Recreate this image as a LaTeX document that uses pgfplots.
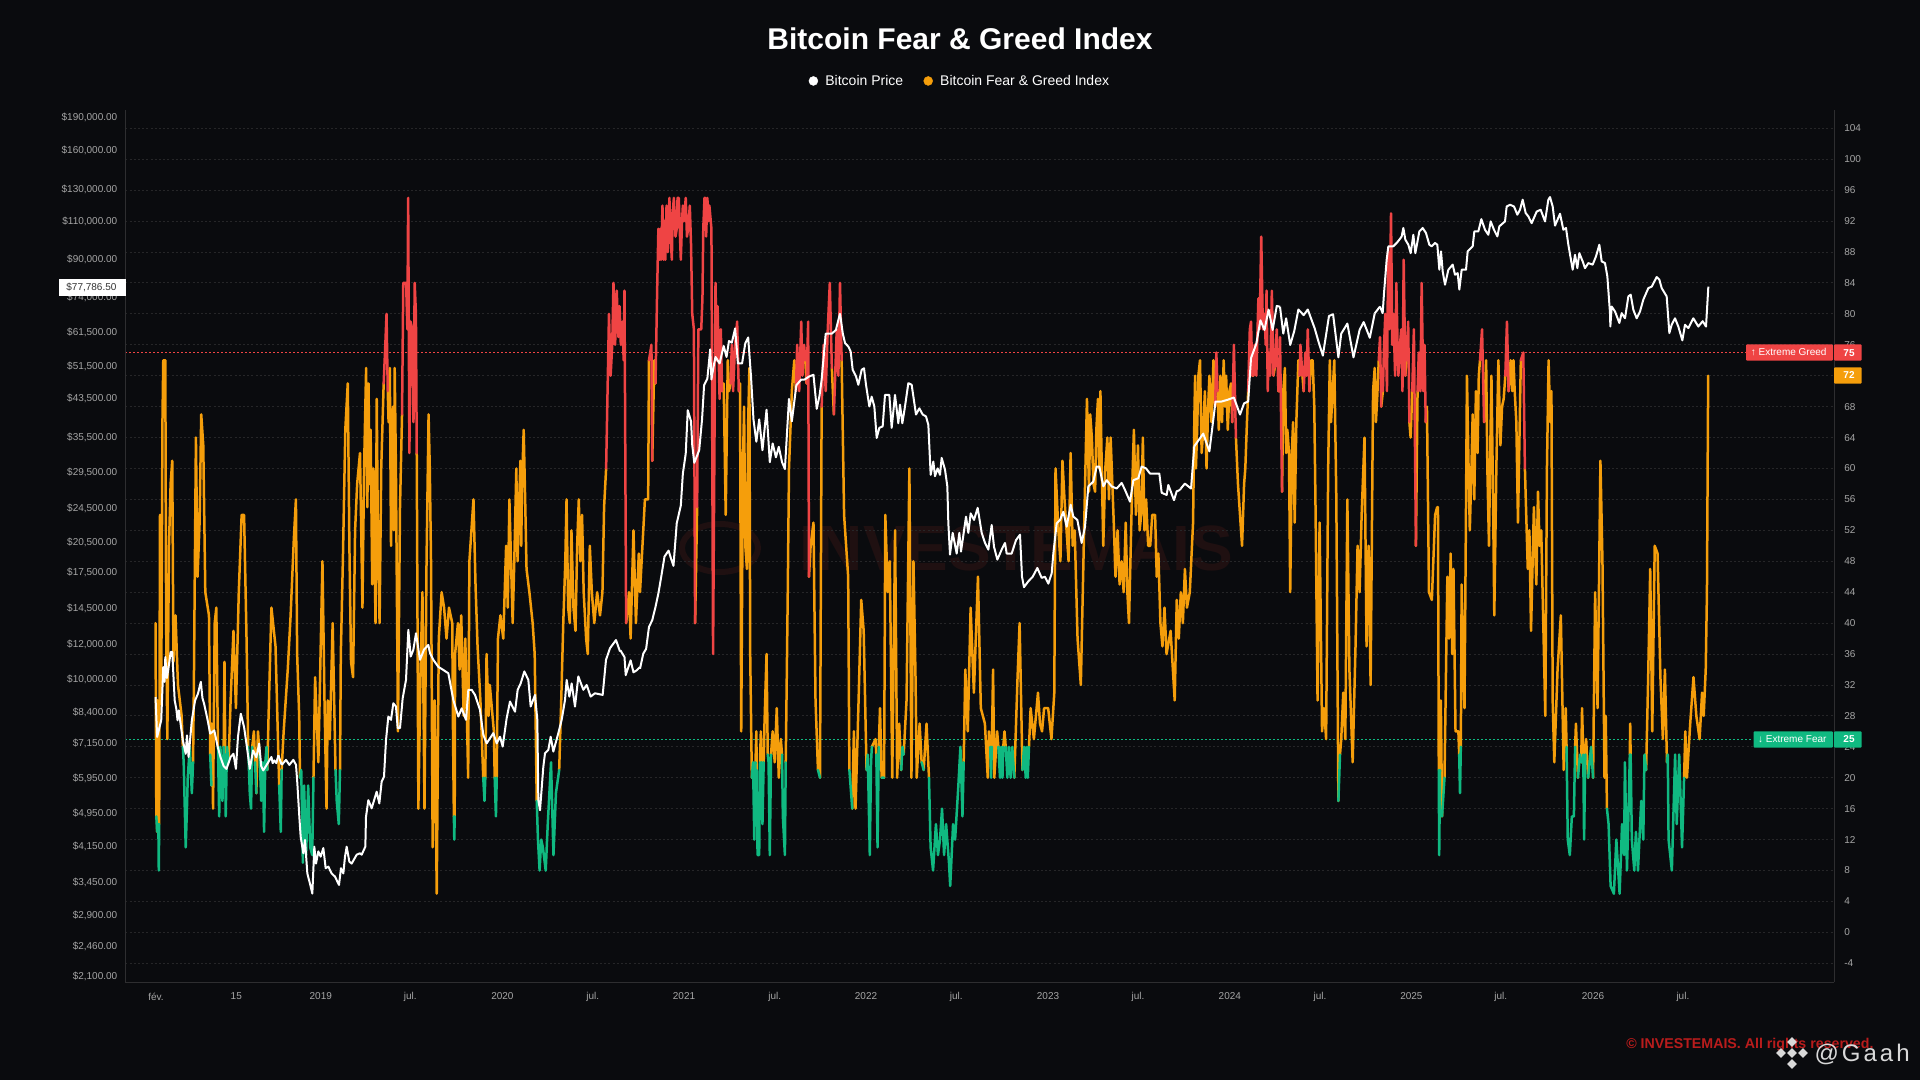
\documentclass[border=0pt]{standalone}
\usepackage{pgfplots}
\usepackage{pgfplotstable}
\usepackage{fontspec}
\setmainfont{Liberation Sans}
\pgfplotsset{compat=1.18}
\definecolor{bg}{HTML}{0A0B0E}
\definecolor{gridc}{HTML}{262628}
\definecolor{axc}{HTML}{2E2E30}
\definecolor{tickc}{HTML}{A6A6A6}
\definecolor{fgred}{HTML}{EF4444}
\definecolor{fgor}{HTML}{F59E0B}
\definecolor{fggr}{HTML}{10B981}
\definecolor{wm}{HTML}{1F1011}
\definecolor{copyc}{HTML}{B91C1C}
\pgfplotstableread{
x y
381 40
383 15
385 13
386 30
388 14
389 8
390 14
392 54
395 30
398 66
400 74
405 74
407 40
410 25
414 50
418 58
422 61
425 35
430 41
436 32
445 28
448 24
450 22
455 11
458 16
460 20
465 24
470 18
473 22
475 32
480 64
484 46
489 53
493 67
498 63
503 44
512 41
515 23
518 19
519 27
522 16
526 40
530 42
534 24
537 15
540 24
543 20
545 17
548 24
550 35
552 23
553 15
556 24
560 22
565 30
572 39
578 29
585 44
592 54
598 54
604 38
608 24
612 18
615 16
618 24
622 26
625 22
628 18
632 26
636 23
640 17
644 22
647 13
650 22
653 24
655 21
658 28
665 42
675 37
684 19
688 13
690 21
695 26
705 34
712 41
720 51
725 56
728 36
733 28
735 20
738 21
742 9
745 19
750 10
755 19
760 11
765 10
768 20
772 33
780 22
790 48
795 30
800 16
803 30
808 25
815 40
822 21
825 17
830 14
833 21
835 36
840 48
846 65
852 71
856 50
860 35
865 33
870 52
875 58
882 62
888 42
892 60
897 73
900 55
903 71
905 58
908 65
912 45
915 60
920 40
923 69
926 50
930 40
934 60
940 71
944 76
947 80
950 70
952 66
955 73
958 50
960 64
963 68
965 52
967 73
970 60
975 26
980 55
985 67
988 84
995 84
998 78
1000 95
1003 62
1006 79
1010 78
1013 66
1016 84
1019 80
1021 62
1025 16
1030 33
1035 44
1040 16
1045 48
1050 67
1053 60
1056 48
1060 11
1065 30
1070 5
1075 38
1082 44
1088 42
1094 38
1100 42
1108 40
1110 25
1112 15
1113 12
1114 15
1115 36
1122 40
1126 34
1130 41
1136 28
1140 38
1147 20
1150 48
1155 52
1160 56
1165 45
1170 37
1177 30
1184 20
1187 17
1189 20
1192 36
1197 28
1200 32
1205 29
1210 26
1212 20
1215 15
1217 20
1220 38
1226 41
1233 38
1240 50
1244 42
1248 56
1252 48
1256 40
1260 48
1265 60
1268 48
1270 52
1275 61
1277 50
1279 58
1283 65
1287 55
1290 47
1297 44
1305 40
1310 36
1315 17
1318 12
1322 8
1326 12
1330 11
1337 8
1342 14
1350 22
1356 10
1362 18
1370 21
1375 30
1380 40
1385 48
1388 56
1392 42
1396 40
1400 52
1405 42
1410 39
1414 50
1418 56
1422 48
1426 54
1430 44
1436 38
1440 36
1445 50
1450 44
1456 40
1463 44
1470 41
1476 44
1480 55
1485 60
1492 80
1496 72
1500 76
1503 84
1507 76
1511 83
1515 77
1518 81
1521 76
1525 79
1528 74
1530 83
1534 40
1538 42
1541 44
1545 38
1552 52
1558 40
1565 49
1568 44
}\fgA
\pgfplotstableread{
x y
0 44
8 52
12 56
20 56
22 74
28 76
30 61
35 74
38 71
42 83
45 91
48 87
50 91
52 87
55 94
58 87
60 92
62 87
65 94
68 88
72 95
75 90
78 87
80 93
83 95
87 90
90 91
92 95
95 95
98 90
100 87
103 92
105 94
108 92
112 95
115 90
118 91
122 94
125 89
128 80
132 78
135 40
140 55
143 78
147 78
150 78
153 82
155 91
158 95
160 95
162 90
165 95
168 92
170 94
175 91
179 36
185 84
188 74
190 81
195 69
198 78
201 70
205 71
210 54
215 74
218 70
222 71
225 76
228 70
233 76
238 79
242 70
245 71
248 26
252 60
255 68
258 50
262 47
265 66
268 73
270 36
274 20
277 22
280 12
283 22
285 26
286 21
288 10
292 10
294 22
296 26
298 22
300 14
303 22
305 27
310 36
313 23
315 22
318 10
321 23
325 26
330 22
335 29
340 20
345 25
348 23
350 15
355 10
357 22
358 26
362 44
365 60
372 70
378 74
382 70
385 76
390 70
395 79
398 72
402 76
405 74
408 71
412 79
414 46
418 50
425 53
430 30
436 21
441 20
445 68
450 76
455 70
460 78
465 84
470 73
475 67
482 78
486 72
490 84
494 74
500 54
510 46
513 21
520 16
524 26
528 16
535 29
542 43
548 39
555 21
558 23
563 10
566 22
568 24
577 25
579 23
582 11
585 24
588 29
592 20
598 20
601 54
607 44
612 48
618 20
625 52
630 20
635 27
640 21
643 24
646 23
653 30
660 60
665 20
670 48
675 33
678 20
685 27
690 22
695 21
702 27
708 20
712 11
718 8
725 14
730 10
735 12
740 16
745 10
750 14
757 9
760 6
767 14
772 12
780 19
785 24
790 15
793 22
797 34
803 26
810 42
818 31
828 46
835 29
845 27
852 20
855 26
858 24
860 20
862 24
865 34
868 20
875 26
878 24
882 20
885 24
888 20
890 24
893 26
896 24
900 20
904 24
908 20
912 24
917 20
925 33
930 40
937 21
941 24
945 20
948 24
950 20
953 24
957 29
965 25
970 28
975 31
980 27
985 26
990 29
1000 29
1008 25
1015 31
1018 60
1025 52
1030 48
1035 61
1040 56
1045 52
1050 48
1055 62
1060 50
1065 52
1072 38
1080 32
1090 57
1095 69
1098 62
1100 57
1103 67
1107 64
1111 58
1115 57
1118 65
1122 69
1125 60
1128 70
1132 58
1135 50
1140 60
1145 64
1149 56
1153 64
1160 54
1165 46
1170 52
1175 45
1180 48
1185 44
1190 53
1194 44
1198 40
1205 56
1210 65
1215 54
1220 63
1224 52
1228 54
1232 64
1236 52
1240 56
1245 50
1250 50
1255 54
1262 54
1266 46
1270 49
1275 40
1280 37
1285 42
1290 36
1300 39
1310 30
1315 43
1320 38
1325 44
1330 40
1335 47
1340 42
1347 44
1355 53
1358 66
1360 72
1362 60
1365 65
1368 72
1372 74
1376 62
1380 65
1384 70
1388 60
1392 68
1395 72
1400 66
1405 74
1409 68
1412 75
1415 70
1418 65
1422 72
1426 66
1430 74
1433 68
1436 72
1440 65
1444 70
1448 71
1451 66
1455 76
1460 64
1465 58
1470 54
1475 50
1480 58
1483 60
1487 66
1490 70
1494 78
1497 79
1500 72
1503 72
1506 76
1510 72
1515 82
1518 78
1522 90
1526 78
1530 80
1533 76
1535 83
1538 70
1540 75
1544 72
1548 83
1552 72
1555 73
1560 78
1564 70
1568 70
}\fgB
\pgfplotstableread{
x y
0 77
5 57
8 70
12 73
15 62
18 65
22 62
25 44
29 62
32 66
36 53
40 66
45 74
48 72
50 76
55 72
58 70
62 75
65 72
68 78
72 70
76 74
80 74
84 68
87 55
92 30
97 53
103 26
108 29
113 25
118 60
122 74
125 66
128 69
133 74
138 56
143 17
147 23
150 25
155 31
160 25
165 56
170 34
178 22
185 37
190 50
195 44
200 54
207 64
212 37
217 50
222 32
228 70
232 73
235 66
238 69
242 74
245 77
248 68
252 70
255 76
258 80
262 70
265 88
268 78
272 93
275 76
278 80
282 72
285 84
288 76
290 72
294 76
297 78
300 70
303 87
307 72
310 74
314 79
317 66
320 64
324 70
328 78
333 50
337 70
340 75
344 70
347 84
351 70
354 76
357 66
360 68
365 44
372 43
380 54
385 55
387 55
389 21
390 10
392 21
394 30
397 15
403 20
410 46
414 38
418 49
422 36
425 47
430 26
437 26
439 23
441 18
443 24
445 45
449 34
452 29
455 50
458 72
462 60
465 52
469 60
472 67
476 56
480 70
484 62
487 72
490 74
495 78
500 66
505 74
508 60
512 50
515 62
518 72
522 56
525 41
530 60
535 74
540 63
544 68
548 69
552 72
556 79
560 70
565 74
569 70
572 74
575 70
579 66
583 53
590 74
596 75
600 60
607 47
611 52
615 39
622 55
628 45
632 57
636 50
640 52
645 40
650 28
654 60
658 74
662 66
665 70
668 30
672 22
680 34
688 41
695 21
700 29
702 24
705 12
710 10
715 15
720 15
723 24
725 27
730 20
735 23
738 22
740 29
743 23
745 12
748 23
750 25
755 20
762 24
767 20
772 44
778 29
785 61
790 48
795 20
798 28
801 16
805 14
810 6
818 5
824 12
832 5
838 14
843 10
845 22
850 8
855 18
857 23
858 27
859 23
862 12
868 8
872 13
877 8
885 17
890 12
893 23
897 21
902 33
907 47
912 26
918 50
925 49
932 33
938 25
943 34
948 22
950 23
952 12
960 8
968 23
972 14
978 23
985 11
990 20
993 26
997 20
1005 27
1013 33
1020 28
1028 25
1034 31
1038 28
1043 34
1046 44
1049 72
}\fgC
% price, x as in the 2.45-scale crops
\pgfplotstableread{
x y
381 9050
385 7340
395 8010
400 10590
403 9800
405 11160
409 10000
412 10410
415 10900
418 11460
422 11460
428 8890
432 8500
435 8010
438 8440
448 7210
455 6720
458 7400
462 6610
470 8010
478 8890
485 9210
492 9800
496 9000
500 8740
508 8080
515 7470
525 7600
533 7000
540 6610
548 6300
555 6210
565 6610
572 6720
578 6210
583 7340
590 8290
598 7730
605 6960
612 6210
620 6840
628 6600
635 7090
640 6300
645 6160
655 6380
665 6610
668 6400
672 6490
677 6400
682 6670
}\pAa
\pgfplotstableread{
x y
1520 11560
1530 11160
1533 10150
1545 10970
1552 10300
1560 10410
1568 10590
}\pAb
\pgfplotstableread{
x y
0 10500
8 11360
15 11650
22 13070
30 13540
38 14520
45 15570
52 17000
60 18900
70 19500
76 18700
82 18000
90 22500
100 24700
105 29200
112 32400
117 40700
125 38400
128 33900
133 30900
145 33000
152 38800
157 46400
165 48000
172 56000
175 47800
180 51000
185 53800
195 52000
205 57000
212 53800
218 58500
225 58000
233 62500
240 52000
250 52000
258 57800
265 59600
272 48500
278 38800
285 34500
292 38800
300 33000
310 40800
318 31000
325 34200
333 31800
340 33600
348 31000
355 29900
365 43200
372 38400
383 46400
395 47800
403 47800
415 48600
425 49000
433 41000
440 44000
445 47800
455 60800
470 60800
480 62000
490 67600
}\pBa
\pgfplotstableread{
x y
1325 27000
1335 27700
1350 27000
1358 33700
1380 36000
1395 32800
1410 42600
1425 42600
1440 43000
1455 43500
1470 39800
1480 42200
1490 42600
1497 53500
1510 57700
1520 65200
1530 62000
1540 69000
1550 62000
1560 70300
1568 70000
}\pBb
\pgfplotstableread{
x y
0 70000
8 60800
15 65900
25 57300
35 61700
45 69000
58 67000
68 69000
85 62500
95 58000
105 54200
120 66700
130 67300
143 53700
150 60800
165 64100
180 53700
195 62000
205 64600
220 59500
232 67600
}\pCa
% price, x in the 3x crops: from 280, 840 and 1380 on
\pgfplotstableread{
x y
5 6340
18 6510
28 6340
40 6510
48 6340
52 5760
58 4830
62 4350
70 3990
75 4280
82 3590
90 3400
97 3230
103 4130
108 3780
115 4030
122 3920
130 4100
137 3690
145 3720
155 3590
165 3530
177 3380
183 3690
190 3590
195 3920
200 4130
208 3820
215 3780
230 3960
240 3990
245 3960
256 4130
258 4830
265 5270
275 5050
290 5510
298 5180
305 5810
312 5960
318 7220
325 8170
333 8030
340 8760
348 8610
353 7690
360 7690
368 8990
378 9900
385 12870
392 11190
400 11590
408 12640
420 11000
432 11600
445 11890
450 11390
460 11000
475 10600
490 10430
505 10250
520 8910
535 8170
545 8530
558 8030
565 9400
575 9400
585 9150
600 8460
610 7420
620 7100
640 7490
650 7100
660 7350
668 6980
680 8100
690 8840
705 8380
713 9400
722 9720
733 10350
745 9900
752 8610
765 9150
772 8030
775 5270
780 5000
790 6280
795 6740
805 6860
812 7350
820 6800
835 7490
845 8030
855 8910
860 9900
868 9070
875 9720
885 8610
895 10080
910 9400
920 9640
932 9070
945 9230
968 9150
978 11000
990 11690
1008 12200
1020 11490
}\pZa
\pgfplotstableread{
x y
8 61000
15 57900
25 56800
32 55400
38 50300
48 48600
55 46500
65 50300
72 50700
78 46500
88 41500
95 43700
103 41500
110 35200
118 37100
128 37400
135 44100
148 44100
155 37100
165 44100
175 38000
180 41900
187 38000
195 41500
205 46900
215 46500
228 39800
238 41100
248 39800
258 39400
265 37700
272 29000
280 31100
285 28800
293 30000
300 29000
305 31700
315 29800
322 27300
325 22500
330 19100
338 21400
350 19200
358 21400
363 19400
378 23300
385 21400
392 23700
402 22900
413 24400
425 21400
435 20300
445 19600
455 22300
462 19900
472 18600
485 19600
495 20300
500 19200
515 19200
528 20600
540 21200
546 17000
552 16100
565 16600
578 17000
592 17800
605 16900
615 17000
625 16400
635 17300
640 19200
650 22500
660 22900
670 23900
680 22100
692 24800
700 23300
712 22900
725 20300
735 22100
745 27300
760 28000
770 30300
778 30300
790 27300
800 28200
815 27300
830 27000
845 27800
855 26800
870 25200
880 28200
895 28500
905 30300
918 30000
930 29200
945 29200
958 29200
965 26400
980 26100
985 27500
1002 25400
1010 26600
1020 26800
}\pZb
\pgfplotstableread{
x y
0 70100
8 67700
12 75200
20 89600
25 96100
40 96100
50 97800
58 99500
65 101200
70 105800
76 99500
85 96900
92 92700
100 102100
106 92700
118 103900
128 105800
138 103000
148 96900
155 96100
165 97800
172 96900
178 85000
183 93600
188 84300
195 78600
205 85000
218 87300
225 82800
233 83500
238 76600
245 85000
258 85000
263 93600
278 96100
283 103900
295 103900
304 110800
315 104800
325 102100
332 109500
342 104800
352 101200
358 106700
375 109500
380 118400
390 119500
402 118400
412 113400
420 116400
428 122700
437 114400
445 112400
455 108500
470 115300
482 116400
495 109500
505 122700
510 124400
518 118400
525 107100
540 114000
550 104800
558 105800
565 96900
578 85000
585 91900
592 85700
598 92700
608 88800
615 85700
625 88000
638 87300
648 91200
658 96900
665 88800
675 88000
682 82100
690 67700
691 63100
695 70100
705 68300
718 64300
725 67700
735 65900
745 73900
752 74600
760 68900
770 65900
780 68300
790 72700
805 77200
815 77800
830 81800
838 80700
845 77200
860 73900
868 61000
875 63700
885 65900
895 63100
907 58700
915 63700
925 62600
940 65900
955 63100
968 64900
978 63100
985 77786
}\pZc
\newcommand\pl[3]{\addplot[white,line width=2pt,line join=round] table[x expr=#2,y=y]{#1};}
% each segment of the index takes the colour of its highest end: >=75 red, >=25 orange, else green
\gdef\segR{}\gdef\segO{}\gdef\segG{}
\newcommand\buildsegs[2]{%
  \pgfplotstablegetrowsof{#1}%
  \pgfmathtruncatemacro\nr{\pgfplotsretval-2}%
  \foreach \i in {0,...,\nr}{%
    \pgfmathtruncatemacro\j{\i+1}%
    \pgfplotstablegetelem{\i}{x}\of{#1}\let\xa\pgfplotsretval
    \pgfplotstablegetelem{\i}{y}\of{#1}\let\ya\pgfplotsretval
    \pgfplotstablegetelem{\j}{x}\of{#1}\let\xb\pgfplotsretval
    \pgfplotstablegetelem{\j}{y}\of{#1}\let\yb\pgfplotsretval
    \pgfmathsetmacro\xA{\xa/2.45+#2}%
    \pgfmathsetmacro\xB{\xb/2.45+#2}%
    \ifnum\ya>\yb\let\ym\ya\else\let\ym\yb\fi
    \ifnum\ym>74
      \xdef\segR{\segR(\xA,\ya)(\xB,\yb)(\xB,nan)}%
    \else\ifnum\ym>24
      \xdef\segO{\segO(\xA,\ya)(\xB,\yb)(\xB,nan)}%
    \else
      \xdef\segG{\segG(\xA,\ya)(\xB,\yb)(\xB,nan)}%
    \fi\fi
  }%
}
\buildsegs{\fgA}{0}\buildsegs{\fgB}{640}\buildsegs{\fgC}{1280}
\pgfplotsset{fgaxis/.style={scale only axis,width=1709pt,xmin=125.3,xmax=1834.3,hide axis,clip=true}}
\tikzset{fgline/.style={line width=2.5pt,line cap=round,line join=round}}
\begin{document}
\begin{tikzpicture}[x=1pt,y=1pt]
\fill[bg,use as bounding box] (0,0) rectangle (1920,1080);
\node[anchor=center,text=wm,font=\fontsize{64}{64}\selectfont\bfseries] at (1016,532) {INVESTEMAIS};
\draw[wm,line width=6pt] (720,532) ellipse (38 and 24);
\node[anchor=center,text=white,font=\fontsize{30}{30}\selectfont\bfseries] at (960,1041) {Bitcoin Fear \& Greed Index};
\begin{axis}[name=base,at={(125.3pt,98pt)},anchor=south west,scale only axis,width=1709pt,height=872pt,
 xmin=125.3,xmax=1834.3,ymin=-6.42,ymax=106.37,
 axis x line*=bottom,axis y line*=right,axis line style={draw=axc,line width=1pt,-},
 major tick length=0pt,
 ytick={-4,0,4,8,12,16,20,24,28,32,36,40,44,48,52,56,60,64,68,72,76,80,84,88,92,96,100,104},
 yticklabels={-4,0,4,8,12,16,20,24,28,32,36,40,44,48,52,56,60,64,68,72,76,80,84,88,92,96,100,104},
 yticklabel style={font=\fontsize{10}{10}\selectfont,text=tickc,anchor=west,xshift=6.5pt},
 ymajorgrids,grid style={draw=gridc,line width=0.9pt,dash pattern=on 2pt off 2.2pt},
 xtick={156,236.3,320.8,410.2,502.4,592.7,684,774.7,866,956.3,1048,1138,1229.8,1320,1411.4,1500.8,1593,1682.9},
 xticklabels={fév.,15,2019,jul.,2020,jul.,2021,jul.,2022,jul.,2023,jul.,2024,jul.,2025,jul.,2026,jul.},
 xticklabel style={font=\fontsize{10}{10}\selectfont,text=tickc,yshift=-7.2pt},
 legend columns=2,
 legend style={at={(0.4884,1.0333)},anchor=center,draw=none,fill=none,text=white,
   font=\fontsize{14}{14}\selectfont,
   /tikz/column 1/.style={column sep=5.5pt},/tikz/column 2/.style={column sep=18.5pt},/tikz/column 3/.style={column sep=5.5pt}},
]
\addlegendimage{only marks,mark=*,white,mark size=4.5pt}
\addlegendentry{Bitcoin Price}
\addlegendimage{only marks,mark=*,fgor,mark size=4.5pt}
\addlegendentry{Bitcoin Fear \& Greed Index}
\addplot[fgred,line width=1pt,dash pattern=on 2pt off 2pt,forget plot] coordinates {(125.3,75)(1746,75)};
\addplot[fggr,line width=1pt,dash pattern=on 2pt off 2pt,forget plot] coordinates {(125.3,25)(1753,25)};
\end{axis}
\begin{axis}[at={(125.3pt,98pt)},anchor=south west,scale only axis,width=1709pt,height=872pt,
 xmin=125.3,xmax=1834.3,ymode=log,ymin=2032,ymax=196400,
 axis x line=none,axis y line*=left,axis line style={draw=axc,line width=1pt,-},
 major tick length=0pt,minor tick length=0pt,
 ytick={2100,2460,2900,3450,4150,4950,5950,7150,8400,10000,12000,14500,17500,20500,24500,29500,35500,43500,51500,61500,74000,90000,110000,130000,160000,190000},
 yticklabels={\$2\char`\,100.00,\$2\char`\,460.00,\$2\char`\,900.00,\$3\char`\,450.00,\$4\char`\,150.00,\$4\char`\,950.00,\$5\char`\,950.00,\$7\char`\,150.00,\$8\char`\,400.00,\$10\char`\,000.00,\$12\char`\,000.00,\$14\char`\,500.00,\$17\char`\,500.00,\$20\char`\,500.00,\$24\char`\,500.00,\$29\char`\,500.00,\$35\char`\,500.00,\$43\char`\,500.00,\$51\char`\,500.00,\$61\char`\,500.00,\$74\char`\,000.00,\$90\char`\,000.00,\$110\char`\,000.00,\$130\char`\,000.00,\$160\char`\,000.00,\$190\char`\,000.00},
 yticklabel style={font=\fontsize{10}{10}\selectfont,text=tickc,anchor=east,xshift=-4.5pt,yshift=-1pt},
]
\end{axis}
\begin{axis}[fgaxis,at={(125.3pt,98pt)},anchor=south west,height=872pt,ymin=-6.42,ymax=106.37,unbounded coords=jump]
\edef\tmp{\noexpand\addplot[fgor,fgline] coordinates {\segO};}\tmp
\edef\tmp{\noexpand\addplot[fggr,fgline] coordinates {\segG};}\tmp
\edef\tmp{\noexpand\addplot[fgred,fgline] coordinates {\segR};}\tmp
\end{axis}
\begin{axis}[fgaxis,at={(125.3pt,98pt)},anchor=south west,height=872pt,ymode=log,ymin=2032,ymax=196400]
\pl{\pAa}{\thisrow{x}/2.45}{}
\pl{\pZa}{\thisrow{x}/3+280}{}
\pl{\pAb}{\thisrow{x}/2.45}{}
\addplot[white,line width=2pt] coordinates {(620,11490)(620.4,11560)};
\pl{\pBa}{\thisrow{x}/2.45+640}{}
\pl{\pZb}{\thisrow{x}/3+840}{}
\pl{\pBb}{\thisrow{x}/2.45+640}{}
\pl{\pCa}{\thisrow{x}/2.45+1280}{}
\pl{\pZc}{\thisrow{x}/3+1380}{}
\addplot[white,line width=2pt] coordinates {(278.4,6670)(281.7,6340)};
\addplot[white,line width=2pt] coordinates {(640,10590)(640,10500)};
\addplot[white,line width=2pt] coordinates {(840,67600)(842.7,61000)};
\addplot[white,line width=2pt] coordinates {(1180,26800)(1180.8,27000)};
\addplot[white,line width=2pt] coordinates {(1280,70000)(1280,70000)};
\addplot[white,line width=2pt] coordinates {(1374.7,67600)(1380,70100)};
\end{axis}
\fill[white] (59.2,784.3) rectangle (126,801);
\node[text=black!80,font=\fontsize{10}{10}\selectfont,anchor=east] at (120,792.7) {\$77\char`\,786.50};
\fill[fgred,rounded corners=1pt] (1746,719.3) rectangle (1833,735.7);
\fill[fgred,rounded corners=1pt] (1834,719.3) rectangle (1861.6,735.7);
\node[text=white,font=\fontsize{10}{10}\selectfont,anchor=east] at (1830,728) {↑ Extreme Greed};
\node[text=white,font=\fontsize{10}{10}\selectfont\bfseries] at (1849,727) {75};
\fill[fgor,rounded corners=1pt] (1834,696.3) rectangle (1861.6,712.7);
\node[text=white,font=\fontsize{10}{10}\selectfont\bfseries] at (1849,704.5) {72};
\fill[fggr,rounded corners=1pt] (1753.5,332.3) rectangle (1833,348.7);
\fill[fggr,rounded corners=1pt] (1834,332.3) rectangle (1861.6,348.7);
\node[text=white,font=\fontsize{10}{10}\selectfont,anchor=east] at (1830,341) {↓ Extreme Fear};
\node[text=white,font=\fontsize{10}{10}\selectfont\bfseries] at (1849,340.5) {25};
\node[text=copyc,font=\fontsize{14.2}{14.2}\selectfont\bfseries,anchor=east] at (1877,35) {© INVESTEMAIS. All rights reserved.};
\node[text=white!85!black,font=\fontsize{24}{24}\selectfont,anchor=west] at (1811,26) {@\hspace{3pt}G\hspace{3pt}a\hspace{3pt}a\hspace{3pt}h};
\foreach \p/\q in {1792/38,1792/16,1781/27,1803/27,1792/27}{\fill[white!85!black,rotate around={45:(\p,\q)}] (\p-3.5,\q-3.5) rectangle (\p+3.5,\q+3.5);}
\end{tikzpicture}
\end{document}
